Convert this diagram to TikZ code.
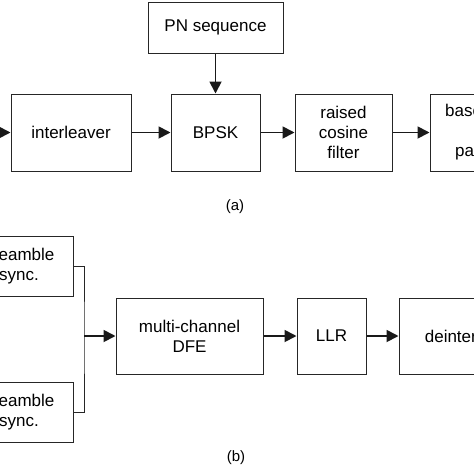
\documentclass[tikz,border=0pt]{standalone}
\usepackage{fontspec}
\setmainfont{Liberation Sans}
\usepackage{tikz}
\usetikzlibrary{arrows.meta,positioning}
\tikzset{
  %% Processing blocks
  blockbox/.style={
    rectangle, draw=black!85, line width=1pt, fill=white,
    align=center, inner sep=0pt,
    font=\fontsize{17}{20}\selectfont},
  %% Captions
  captxt/.style={font=\fontsize{15}{18}\selectfont},
  %% Arrows
  arrow/.style={-{Triangle[length=12pt,width=12pt]}, line width=1.8pt, black!90},
  bline/.style={line width=1pt, black!85},
}
\begin{document}
\begin{tikzpicture}[x=1pt, y=-1pt]
  \useasboundingbox (0,0) rectangle (474,474);
  \clip (0,0) rectangle (474,474);

  %% (a) transmitter
  \node[blockbox, minimum width=120pt, minimum height=77pt] (intl) at (71,132.5)
        {interleaver};
  \node[blockbox, minimum width=89pt, minimum height=77pt, right=39pt of intl] (bpsk)
        {BPSK};
  \node[blockbox, minimum width=135pt, minimum height=51pt, above=40pt of bpsk] (pn)
        {PN sequence};
  \node[blockbox, minimum width=97pt, minimum height=77pt, right=34pt of bpsk] (rcf)
        {raised\\ cosine\\ filter};
  \node[blockbox, minimum width=124pt, minimum height=77pt, right=37pt of rcf] (b2p)
        {baseband to\\[20pt] passband};
  \coordinate (src) at (-10,132.5);
  \node[captxt] (capa) at (235,207) {(a)};

  \draw[arrow] (src) -- (intl);
  \draw[arrow] (intl) -- (bpsk);
  \draw[arrow] (pn) -- (bpsk);
  \draw[arrow] (bpsk) -- (rcf);
  \draw[arrow] (rcf) -- (b2p);

  %% (b) receiver
  \node[blockbox, minimum width=108pt, minimum height=60pt] (pre1) at (19,266)
        {preamble\\ sync.};
  \node[blockbox, minimum width=108pt, minimum height=60pt] (pre2) at (19,412)
        {preamble\\ sync.};
  \coordinate (jn) at (84,336);
  \node[blockbox, minimum width=147pt, minimum height=76pt] (dfe) at (189.5,336)
        {multi-channel\\ DFE};
  \node[blockbox, minimum width=69pt, minimum height=76pt, right=33pt of dfe] (llr)
        {LLR};
  \node[blockbox, minimum width=150pt, minimum height=76pt, right=32pt of llr] (dint)
        {deinterleaver};
  \node[captxt] (capb) at (236,458) {(b)};

  \draw[bline] (pre1.east) -| (jn) |- (pre2.east);
  \draw[arrow] (jn) -- (dfe);
  \draw[arrow] (dfe) -- (llr);
  \draw[arrow] (llr) -- (dint);

\end{tikzpicture}
\end{document}
